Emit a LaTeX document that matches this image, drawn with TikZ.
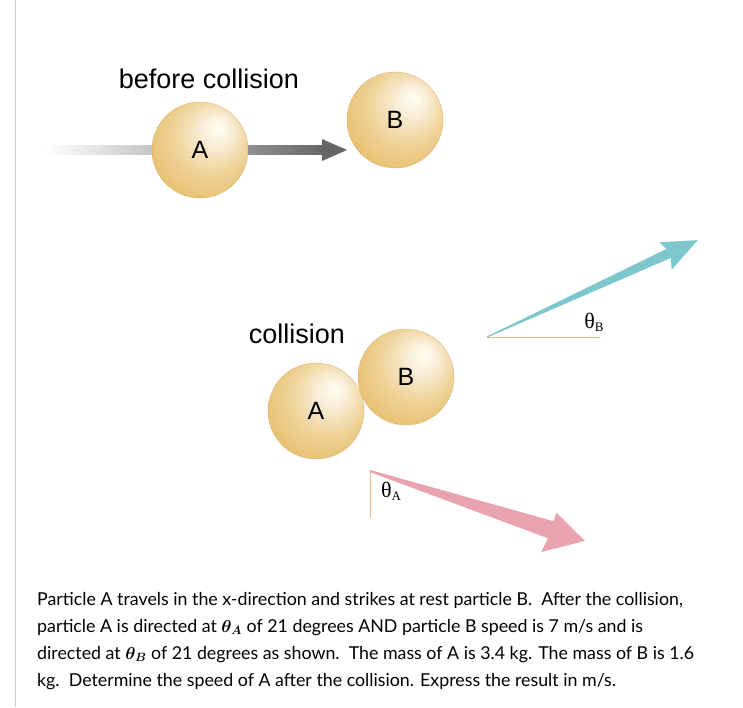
\documentclass[tikz,border=0pt]{standalone}
\usepackage{amsmath}
\usepackage{fontspec}
\setmainfont{Lato}
\newfontfamily\arialf{Liberation Sans}
\newfontfamily\timesf{Liberation Serif}
\begin{document}
\begin{tikzpicture}[x=1pt,y=1pt,
  ball/.style={circle,minimum size=96pt,inner sep=0pt,
    shading=ballshade,
    draw=ballout!90!black,line width=0.3pt,
    font=\arialf\fontsize{25}{25}\selectfont},
  lab/.style={font=\arialf\fontsize{27}{27}\selectfont,inner sep=0pt},
  thl/.style={font=\timesf\fontsize{22}{22}\selectfont,inner sep=0pt}]
\definecolor{ballout}{HTML}{E9C375}
\definecolor{teal}{HTML}{7CC6CC}
\definecolor{pinkar}{HTML}{E8A3AE}
\definecolor{orl}{HTML}{F6B48A}
\pgfdeclareradialshading{ballshade}{\pgfpoint{10bp}{12bp}}{%
  color(0bp)=(white!95!yellow); color(8bp)=(ballout!30!white); color(20bp)=(ballout!75!white); color(30bp)=(ballout); color(50bp)=(ballout!90!black)}
\useasboundingbox (0,0) rectangle (743,-707);
\fill[white] (0,0) rectangle (743,-707);
\draw[gray!40,line width=1pt] (15,0) -- (15,-707);
% before
\node[lab] (t1) at (209,-79) {before collision};
\coordinate (g0) at (45,-150);
\coordinate (g1) at (347,-150);
\shade[left color=white,right color=gray!80!black,middle color=gray!60] (45,-145.5) rectangle (325,-154.5);
\fill[gray!80!black] (322,-145.5) -- (322,-139) -- (347,-150) -- (322,-161) -- (322,-154.5) -- cycle;
\node[ball] (A1) at (200,-150) {A};
\node[ball] (B1) at (395,-120) {B};
% collision
\node[lab] (t2) at (297,-334) {collision};
\node[ball] (A2) at (316,-411) {A};
\node[ball] (B2) at (406,-377) {B};
% teal arrow
\coordinate (tb) at (487,-337);
\coordinate (te) at (698,-240);
\begin{scope}[shift={(tb)},rotate=24.7]
\fill[teal] (0,-0.5) -- (200,-5) -- (196,-16) -- (232,0) -- (196,14) -- (200,5) -- (0,0.5) -- cycle;
\end{scope}
\draw[orl,line width=1pt] (tb) -- (600,-337);
\node[thl] (thB) at (594,-322) {θ\raisebox{-3pt}{\fontsize{13}{13}\selectfont B}};
% pink arrow
\coordinate (pb) at (370,-471);
\coordinate (pe) at (585,-540);
\begin{scope}[shift={(pb)},rotate=-18]
\fill[pinkar] (0,-1) -- (190,-9) -- (188,-24) -- (226,0) -- (190,18) -- (190,9) -- (0,1) -- cycle;
\end{scope}
\draw[orl,line width=1pt] (pb) -- (370,-518);
\node[thl] (thA) at (391,-491) {θ\raisebox{-3pt}{\fontsize{13}{13}\selectfont A}};
% text
\node[anchor=north west,inner sep=0pt,align=left,
  font=\fontsize{17.8}{27}\selectfont] (txt) at (37,-592)
 {Particle A travels in the x-direction and strikes at rest particle B.\ \ After the collision,\\
 particle A is directed at $\boldsymbol{\theta_A}$ of 21 degrees AND particle B speed is 7 m/s and is\\
 directed at $\boldsymbol{\theta_B}$ of 21 degrees as shown.\ \ The mass of A is 3.4 kg. The mass of B is 1.6\\
 kg.\ \ Determine the speed of A after the collision. Express the result in m/s.};
\end{tikzpicture}
\end{document}
